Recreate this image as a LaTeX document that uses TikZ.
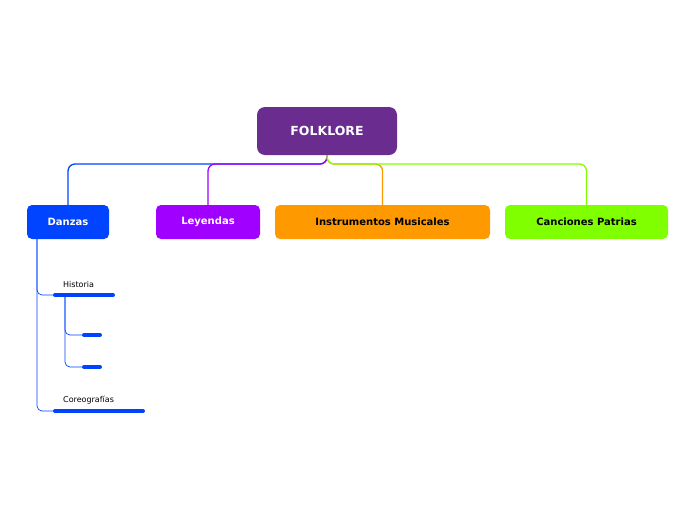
\documentclass[tikz,border=0pt]{standalone}
\usepackage{fontspec}
\setmainfont{DejaVu Sans}
\definecolor{cRoot}{HTML}{6A2C8E}
\definecolor{cBlue}{HTML}{0044FF}
\definecolor{cViolet}{HTML}{A000FF}
\definecolor{cOrange}{HTML}{FF9900}
\definecolor{cGreen}{HTML}{80FF00}
\begin{document}
\begin{tikzpicture}[x=1pt,y=-1pt,
  box/.style={rounded corners=5pt,inner sep=0pt,font=\bfseries\fontsize{10}{12}\selectfont},
  conn/.style={line width=1.3pt,rounded corners=7pt},
  sub/.style={line width=0.7pt,cBlue,rounded corners=5pt},
  bar/.style={line width=4pt,cBlue,line cap=round},
  lbl/.style={font=\fontsize{8}{10}\selectfont,anchor=south west,inner sep=0pt}]
\useasboundingbox (0,0) rectangle (696,520);
\node[box,fill=cRoot,text=white,minimum width=140pt,minimum height=48pt,rounded corners=8pt,font=\bfseries\fontsize{12.5}{15}\selectfont] (root) at (327,131) {FOLKLORE};
\node[box,fill=cBlue,text=white,minimum width=82pt,minimum height=34pt] (danzas) at (68,222) {Danzas};
\node[box,fill=cViolet,text=white,minimum width=104pt,minimum height=34pt] (ley) at (208,222) {Leyendas};
\node[box,fill=cOrange,text=black,minimum width=215pt,minimum height=34pt] (inst) at (382.5,222) {Instrumentos Musicales};
\node[box,fill=cGreen,text=black,minimum width=163pt,minimum height=34pt] (canc) at (586.5,222) {Canciones Patrias};
\coordinate (j) at (327,164);
\draw[conn,cBlue] (root.south) -- (j) -| (danzas.north);
\draw[conn,cViolet] (root.south) -- (j) -| (ley.north);
\draw[conn,cOrange] (root.south) -- (j) -| (inst.north);
\draw[conn,cGreen] (root.south) -- (j) -| (canc.north);
% subtopics
\coordinate (hA) at (55,295); \coordinate (hB) at (113,295);
\coordinate (cA) at (55,411); \coordinate (cB) at (143,411);
\coordinate (s1A) at (84,335); \coordinate (s1B) at (100,335);
\coordinate (s2A) at (84,367); \coordinate (s2B) at (100,367);
\node[lbl] (hist) at (63,288) {Historia};
\node[lbl] (coreo) at (63,404) {Coreografías};
\draw[sub] (37,239) |- (hA);
\draw[sub] (37,239) |- (cA);
\draw[sub] (65,295) |- (s1A);
\draw[sub] (65,295) |- (s2A);
\draw[bar] (hA) -- (hB);
\draw[bar] (cA) -- (cB);
\draw[bar] (s1A) -- (s1B);
\draw[bar] (s2A) -- (s2B);
\end{tikzpicture}
\end{document}
